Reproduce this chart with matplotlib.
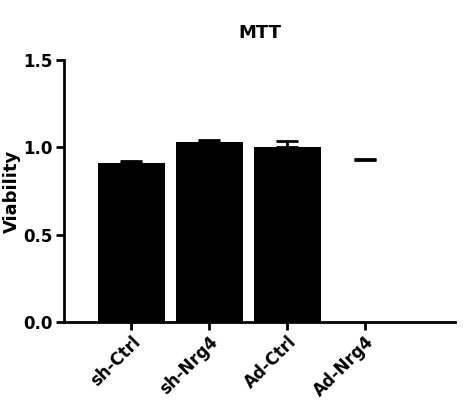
import numpy as np
import matplotlib.pyplot as plt

groups = ['sh-Ctrl', 'sh-Nrg4', 'Ad-Ctrl', 'Ad-Nrg4']
viability = [0.91, 1.03, 1.00, 0.93]
errors = [0.01, 0.015, 0.035, 0.005]
bar_colors = ['black', 'black', 'black', 'white']

fig = plt.figure(figsize=(4.74, 4.09), dpi=100)
ax = fig.add_axes([0.135, 0.213, 0.825, 0.64])

x = np.arange(len(groups))
ax.bar(x, viability, width=0.86, color=bar_colors)
ax.errorbar(x, viability, yerr=[np.zeros(len(errors)), errors], fmt='none',
            ecolor='black', elinewidth=2, capsize=8, capthick=2)

ax.set_xlim(-0.86, 4.15)
ax.set_ylim(0, 1.5)
ax.set_yticks([0.0, 0.5, 1.0, 1.5])
ax.set_yticklabels(['0.0', '0.5', '1.0', '1.5'], fontweight='bold', fontsize=12)
ax.set_xticks(x)
ax.set_xticklabels(groups, rotation=45, ha='right', rotation_mode='anchor',
                   fontweight='bold', fontsize=12)
ax.set_ylabel('Viability', fontweight='bold', fontsize=13, labelpad=2)
ax.set_title('MTT', fontweight='bold', fontsize=13, pad=16)

for s in ['top', 'right']:
    ax.spines[s].set_visible(False)
for s in ['left', 'bottom']:
    ax.spines[s].set_linewidth(2)
ax.tick_params(width=2, length=6, pad=2)

fig.savefig('out.png', dpi=100)
